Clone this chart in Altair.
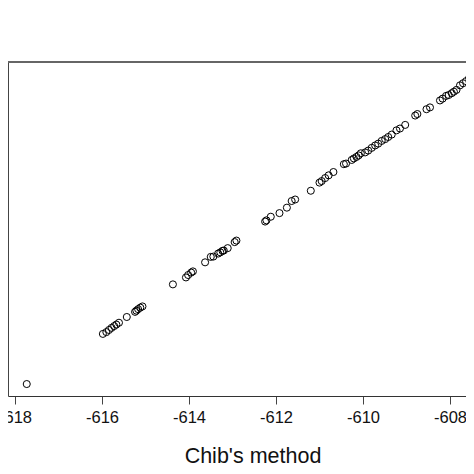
import altair as alt
import pandas as pd

# Chib's method (x) vs. the other estimator (y)
chib = [
    -617.73,
    -615.98, -615.90, -615.84, -615.78, -615.72, -615.67, -615.61, -615.43,
    -615.24, -615.21, -615.17, -615.12, -615.07,
    -614.37,
    -614.07, -614.02, -613.95, -613.91,
    -613.63, -613.50, -613.44, -613.33, -613.28, -613.23, -613.20, -613.11,
    -612.95, -612.91,
    -612.25, -612.22, -612.12, -611.92, -611.75, -611.64, -611.56, -611.20,
    -611.00, -610.95, -610.87, -610.79, -610.68,
    -610.44, -610.39, -610.26, -610.21, -610.15, -610.10, -610.05, -609.95,
    -609.88, -609.80, -609.72, -609.65, -609.57, -609.49, -609.42, -609.34,
    -609.23, -609.15, -609.03,
    -608.80, -608.75, -608.54, -608.46, -608.23, -608.17, -608.09, -608.03,
    -607.96, -607.91, -607.85, -607.77, -607.70, -607.63, -607.56, -607.49,
    -607.42,
]
other = [
    -617.67,
    -616.01, -615.95, -615.88, -615.81, -615.75, -615.70, -615.64, -615.45,
    -615.28, -615.24, -615.19, -615.14, -615.10,
    -614.37,
    -614.14, -614.06, -613.98, -613.94,
    -613.64, -613.46, -613.45, -613.35, -613.31, -613.26, -613.25, -613.17,
    -612.97, -612.92,
    -612.29, -612.25, -612.13, -612.01, -611.83, -611.61, -611.56, -611.27,
    -611.00, -610.95, -610.85, -610.76, -610.65,
    -610.39, -610.37, -610.25, -610.20, -610.15, -610.10, -610.03, -610.00,
    -609.94, -609.85, -609.77, -609.71, -609.62, -609.56, -609.49, -609.41,
    -609.27, -609.21, -609.09,
    -608.78, -608.73, -608.57, -608.51, -608.28, -608.22, -608.13, -608.10,
    -608.04, -607.99, -607.93, -607.78, -607.71, -607.64, -607.54, -607.45,
    -607.38,
]
x_ticks = [-618, -616, -614, -612, -610, -608]
x_title = "Chib's method"

df = pd.DataFrame({"chib": chib, "other": other})

W, H = 458, 334
FONT = "Liberation Sans"

# 43.5 px per unit on x, 30.2 px per unit on y
x_scale = alt.Scale(domain=[-618.161, -607.632], nice=False, zero=False)
y_scale = alt.Scale(domain=[-618.066, -607.007], nice=False, zero=False)

points = alt.Chart(df).mark_point(
    shape="circle", filled=False, color="black", size=50, strokeWidth=1,
    clip=True, opacity=1,
).encode(
    x=alt.X("chib:Q", scale=x_scale, axis=alt.Axis(
        values=x_ticks, title=x_title, grid=False,
        labelExpr="'-' + abs(datum.value)",
        tickSize=8, tickColor="#444", tickWidth=1,
        domainColor="#333", domainWidth=1,
        labelFont=FONT, labelFontSize=16.5, labelColor="#111", labelPadding=5,
        labelFlush=False, labelOverlap=False,
        titleFont=FONT, titleFontSize=21.5, titleFontWeight="normal",
        titleColor="#111", titleX=244.5, titleY=66, titleAlign="center",
        titleBaseline="alphabetic",
    )),
    y=alt.Y("other:Q", scale=y_scale, axis=alt.Axis(
        title=None, labels=False, ticks=False, grid=False,
        domainColor="#444", domainWidth=1,
    )),
)

top_border = alt.Chart(df).mark_rule(color="#666", strokeWidth=1).encode(
    x=alt.value(0), x2=alt.value(W), y=alt.value(0)
)

chart = alt.layer(points, top_border).properties(
    width=W, height=H,
    autosize=alt.AutoSizeParams(type="none"),
    padding={"left": 0, "top": 54, "right": 0, "bottom": 70},
    background="white",
).configure_view(strokeWidth=0)

chart.save("out.html", embed_options={"renderer": "svg", "actions": False})
